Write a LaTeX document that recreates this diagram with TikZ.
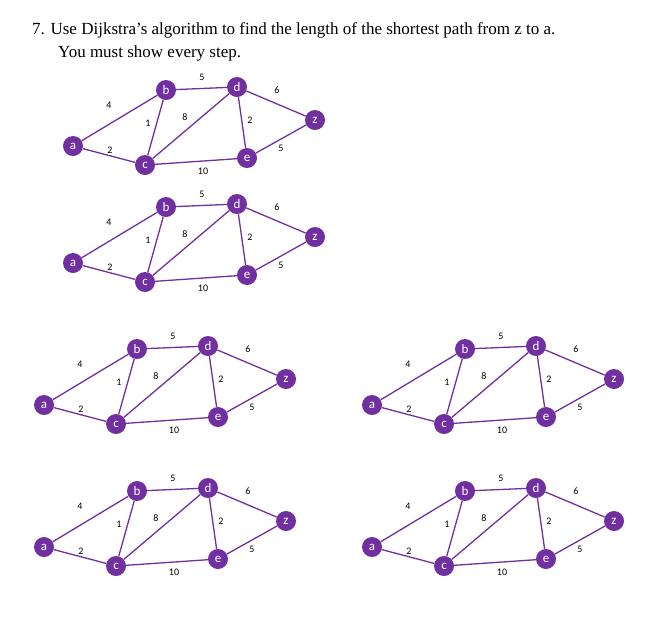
\documentclass[tikz,border=0pt]{standalone}
\usepackage{fontspec}
\setmainfont{Liberation Serif}
\newfontfamily\lblfont{Carlito}
\definecolor{vp}{HTML}{7030A0}
\begin{document}
\begin{tikzpicture}[x=1pt,y=-1pt,
  vert/.style={circle,fill=vp,minimum size=20pt,inner sep=0pt,text=white,font=\lblfont\fontsize{13}{13}\selectfont},
  edge/.style={draw=vp,line width=1.3pt},
  wt/.style={font=\lblfont\fontsize{10}{10}\selectfont,inner sep=0pt}]
\useasboundingbox (0,0) rectangle (647,633);
\node[anchor=west,font=\fontsize{17}{17}\selectfont,inner sep=0pt] (t1) at (32,30) {7. Use Dijkstra's algorithm to find the length of the shortest path from z to a.};
\node[anchor=west,font=\fontsize{17}{17}\selectfont,inner sep=0pt] (t2) at (58,53) {You must show every step.};
\newcommand\graphat[3]{%
\begin{scope}[shift={(#2,#3)}]
\node[vert] (#1a) at (73,146) {a};
\node[vert] (#1b) at (166,90) {b};
\node[vert] (#1d) at (237,87) {d};
\node[vert] (#1z) at (315,120) {z};
\node[vert] (#1c) at (145,165) {c};
\node[vert] (#1e) at (247,158) {e};
\draw[edge] (#1a)--(#1b) (#1a)--(#1c) (#1b)--(#1c) (#1b)--(#1d) (#1c)--(#1d) (#1c)--(#1e) (#1d)--(#1e) (#1d)--(#1z) (#1e)--(#1z);
\node[wt] (#1w1) at (109,105) {4};
\node[wt] (#1w2) at (110,150) {2};
\node[wt] (#1w3) at (148,123) {1};
\node[wt] (#1w4) at (185,117) {8};
\node[wt] (#1w5) at (202,77) {5};
\node[wt] (#1w6) at (277,90) {6};
\node[wt] (#1w7) at (250,120) {2};
\node[wt] (#1w8) at (203,171) {10};
\node[wt] (#1w9) at (281,148) {5};
\end{scope}}
\graphat{g1}{0}{0}
\graphat{g2}{0}{117}
\graphat{g3}{-29}{259}
\graphat{g4}{299}{259}
\graphat{g5}{-29}{401}
\graphat{g6}{299}{401}
\end{tikzpicture}
\end{document}
